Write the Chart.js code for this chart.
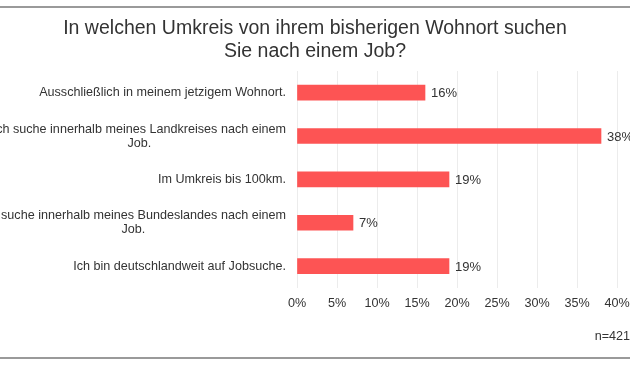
<!DOCTYPE html>
<html>
<head>
<meta charset="utf-8">
<script src="https://cdn.jsdelivr.net/npm/chart.js@4/dist/chart.umd.min.js"></script>
<style>
  html, body { margin: 0; padding: 0; background: #fff; }
  #wrap { position: relative; width: 630px; height: 370px; }
  #wrap .rule { position: absolute; left: 0; width: 630px; height: 2px; background: #9a9a9a; }
  canvas { position: absolute; left: 0; top: 0; }
</style>
</head>
<body>
<div id="wrap">
  <div class="rule" style="top:6px"></div>
  <div class="rule" style="top:357px"></div>
  <canvas id="chart" width="630" height="370"></canvas>
</div>
<script>
const titleLines = ['In welchen Umkreis von ihrem bisherigen Wohnort suchen', 'Sie nach einem Job?'];
const categories = [
    ['Ausschließlich in meinem jetzigem Wohnort.'],
    ['Ich suche innerhalb meines Landkreises nach einem', 'Job.'],
    ['Im Umkreis bis 100km.'],
    ['Ich suche innerhalb meines Bundeslandes nach einem', 'Job.'],
    ['Ich bin deutschlandweit auf Jobsuche.']
];
const shares = [16, 38, 19, 7, 19];
const sampleNote = 'n=421';

const textColor = '#333333';
const barColor = '#fd5454';
const fontFamily = '"Liberation Sans", Arial, sans-serif';
const labelFont = '12.6px ' + fontFamily;

// labels: right-aligned block, lines centered inside the block
const categoryLabels = {
    id: 'categoryLabels',
    afterDraw(chart) {
        const ctx = chart.ctx;
        const y = chart.scales.y;
        const right = chart.chartArea.left - 11;
        ctx.save();
        ctx.font = labelFont;
        ctx.fillStyle = textColor;
        ctx.textAlign = 'center';
        ctx.textBaseline = 'middle';
        categories.forEach((lines, i) => {
            const w = Math.max(...lines.map(l => ctx.measureText(l).width));
            const cx = right - w / 2;
            const cy = y.getPixelForValue(i);
            const lh = 14;
            const top = cy - (lines.length - 1) * lh / 2;
            lines.forEach((l, j) => ctx.fillText(l, cx, top + j * lh));
        });
        ctx.restore();
    }
};

const valueLabels = {
    id: 'valueLabels',
    afterDatasetsDraw(chart) {
        const ctx = chart.ctx;
        const meta = chart.getDatasetMeta(0);
        ctx.save();
        ctx.font = '13px ' + fontFamily;
        ctx.fillStyle = textColor;
        ctx.textAlign = 'left';
        ctx.textBaseline = 'middle';
        meta.data.forEach((bar, i) => {
            ctx.fillText(shares[i] + '%', bar.x + 6, bar.y + 1);
        });
        ctx.restore();
    }
};

new Chart(document.getElementById('chart').getContext('2d'), {
    type: 'bar',
    data: {
        labels: categories.map(c => c.join(' ')),
        datasets: [{ data: shares, backgroundColor: barColor, barThickness: 15 }]
    },
    options: {
        indexAxis: 'y',
        responsive: false,
        animation: false,
        layout: { padding: 0 },
        scales: {
            x: {
                min: 0, max: 40,
                ticks: { stepSize: 5, color: textColor, font: { size: 12.6, family: fontFamily }, padding: 8, callback: v => v + '%' },
                grid: { color: '#ececec', drawTicks: false },
                border: { display: false },
                afterFit(scale) { scale.paddingRight = 13; }
            },
            y: {
                ticks: { display: false },
                grid: { display: false },
                border: { display: false },
                afterFit(scale) { scale.width = 297; }
            }
        },
        plugins: {
            legend: { display: false },
            tooltip: { enabled: false },
            title: {
                display: true,
                text: titleLines,
                color: textColor,
                font: { size: 19.5, weight: 'normal', family: fontFamily, lineHeight: 1.18 },
                padding: { top: 17, bottom: 8 }
            },
            subtitle: {
                display: true,
                position: 'bottom',
                align: 'end',
                text: sampleNote,
                color: textColor,
                font: { size: 12.6, family: fontFamily },
                padding: { top: 10, bottom: 26 }
            }
        }
    },
    plugins: [categoryLabels, valueLabels]
});
</script>
</body>
</html>
